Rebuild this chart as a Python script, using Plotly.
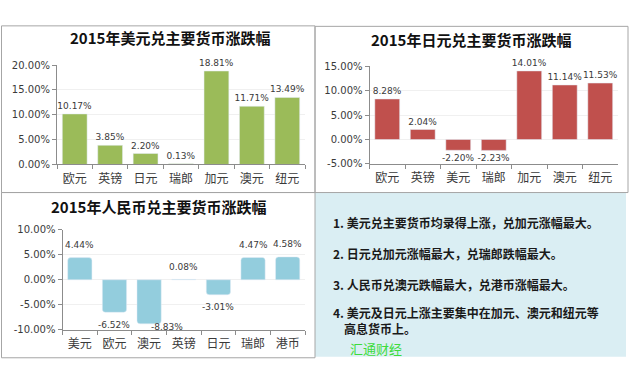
import plotly.graph_objects as go

W, H = 630, 388

# ---------------- data ----------------
usd_cats = ["欧元", "英镑", "日元", "瑞郎", "加元", "澳元", "纽元"]
usd_vals = [10.17, 3.85, 2.20, 0.13, 18.81, 11.71, 13.49]

jpy_cats = ["欧元", "英镑", "美元", "瑞郎", "加元", "澳元", "纽元"]
jpy_vals = [8.28, 2.04, -2.20, -2.23, 14.01, 11.14, 11.53]

cny_cats = ["美元", "欧元", "澳元", "英镑", "日元", "瑞郎", "港币"]
cny_vals = [4.44, -6.52, -8.83, 0.08, -3.01, 4.47, 4.58]

usd_ticks = [0, 5, 10, 15, 20]
usd_ticktext = ["0.00%", "5.00%", "10.00%", "15.00%", "20.00%"]
jpy_ticks = [-5, 0, 5, 10, 15]
jpy_ticktext = ["-5.00%", "0.00%", "5.00%", "10.00%", "15.00%"]
cny_ticks = [-10, -5, 0, 5, 10]
cny_ticktext = ["-10.00%", "-5.00%", "0.00%", "5.00%", "10.00%"]

titles = ["2015年美元兑主要货币涨跌幅", "2015年日元兑主要货币涨跌幅", "2015年人民币兑主要货币涨跌幅"]
notes = [
    "1. 美元兑主要货币均录得上涨，兑加元涨幅最大。",
    "2. 日元兑加元涨幅最大，兑瑞郎跌幅最大。",
    "3. 人民币兑澳元跌幅最大，兑港币涨幅最大。",
    "4. 美元及日元上涨主要集中在加元、澳元和纽元等",
    "    高息货币上。",
]
source = "汇通财经"


def px(x):
    return x / W


def py(y):
    return 1 - y / H


def label(v):
    return f"{v:.2f}%"


CJK = "Noto Sans CJK SC"
NUM = "DejaVu Sans"
TXT = "#3a3a3a"
AX = "#8c8c8c"

fig = go.Figure()

fig.add_trace(go.Bar(
    x=usd_cats, y=usd_vals, xaxis="x", yaxis="y",
    marker=dict(color="#9BBB59"),
    text=[label(v) for v in usd_vals], textposition="outside", constraintext="none",
    textfont=dict(family=NUM, size=9, color=TXT), cliponaxis=False,
))
fig.add_trace(go.Bar(
    x=jpy_cats, y=jpy_vals, xaxis="x2", yaxis="y2",
    marker=dict(color="#C0504D"),
    text=[label(v) for v in jpy_vals], textposition="outside", constraintext="none",
    textfont=dict(family=NUM, size=9, color=TXT), cliponaxis=False,
))
fig.add_trace(go.Bar(
    x=cny_cats, y=cny_vals, xaxis="x3", yaxis="y3",
    marker=dict(color="#93CDDD", cornerradius=3),
    cliponaxis=False,
))

# chart 3 value labels: offset from the bar end, kept inside the axis range
cny_range = [-10, 10]
off = 2.5
ann = []
for c, v in zip(cny_cats, cny_vals):
    ly = v + off if v >= 0 else v - off
    clamped = ly < cny_range[0] + 0.6
    ly = max(min(ly, cny_range[1] - 0.6), cny_range[0] + 0.6)
    ann.append(dict(text=label(v), x=c, y=ly, xref="x3", yref="y3",
                    xshift=18 if clamped else 0,
                    showarrow=False, xanchor="center", yanchor="middle",
                    font=dict(family=NUM, size=9, color=TXT)))


def xax(domain, anchor):
    return dict(
        domain=domain, anchor=anchor, type="category",
        showline=True, linecolor=AX, linewidth=1,
        ticks="outside", tickson="boundaries", ticklen=4, tickcolor=AX,
        ticklabelstandoff=3,
        tickfont=dict(family=CJK, size=12, color=TXT),
        showgrid=False, fixedrange=True,
    )


def yax(domain, anchor, rng, tv, tt):
    return dict(
        domain=domain, anchor=anchor, range=rng,
        tickvals=tv, ticktext=tt,
        showline=True, linecolor=AX, linewidth=1,
        ticks="outside", ticklen=4, tickcolor=AX,
        tickfont=dict(family=NUM, size=10, color=TXT),
        showgrid=True, gridcolor="#f0f0f0", gridwidth=1,
        zeroline=False, fixedrange=True,
    )


fig.update_layout(
    width=W, height=H,
    margin=dict(l=0, r=0, t=0, b=0),
    paper_bgcolor="white", plot_bgcolor="white",
    showlegend=False, bargap=0.3,
    xaxis=xax([px(57), px(305)], "y"),
    yaxis=yax([py(163.5), py(61)], "x", [0, 20], usd_ticks, usd_ticktext),
    xaxis2=xax([px(369.5), px(618)], "y2"),
    yaxis2=yax([py(163), py(62)], "x2", [-5, 15], jpy_ticks, jpy_ticktext),
    xaxis3=xax([px(62.5), px(305)], "y3"),
    yaxis3=yax([py(334), py(231)], "x3", cny_range, cny_ticks, cny_ticktext),
)

shapes = []
shapes.append(dict(type="rect", xref="paper", yref="paper",
                   x0=px(315), x1=px(626), y0=py(362), y1=py(193),
                   fillcolor="#DAEEF3", line=dict(width=0), layer="below"))
for (x0, y0, x1, y1) in [(1.5, 20.5, 315, 192.5), (315, 21, 628, 192.5), (1.5, 192.5, 315, 363)]:
    shapes.append(dict(type="rect", xref="paper", yref="paper",
                       x0=px(x0), x1=px(x1), y0=py(y1), y1=py(y0),
                       line=dict(color="#a6a6a6", width=1), fillcolor="rgba(0,0,0,0)",
                       layer="below"))
fig.update_layout(shapes=shapes)

for t, (cx, cy) in zip(titles, [(170, 33), (471, 35), (158, 207)]):
    ann.append(dict(text="<b>" + t + "</b>", x=px(cx), y=py(cy), xref="paper", yref="paper",
                    showarrow=False, xanchor="center", yanchor="middle",
                    font=dict(family=CJK, size=15, color="#111111")))
for t, yy in zip(notes, [223, 255, 287, 316, 333]):
    ann.append(dict(text="<b>" + t + "</b>", x=px(331), y=py(yy), xref="paper", yref="paper",
                    showarrow=False, xanchor="left", yanchor="middle",
                    font=dict(family=CJK, size=12, color="#1a1a1a")))
ann.append(dict(text=source, x=px(348), y=py(353), xref="paper", yref="paper",
                showarrow=False, xanchor="left", yanchor="middle",
                font=dict(family=CJK, size=13, color="#3ddc3d")))
fig.update_layout(annotations=ann)

fig.write_html(
    "out.html",
    config={"displayModeBar": False},
    post_script="document.body.style.margin='0px';document.body.style.overflow='hidden';",
)
